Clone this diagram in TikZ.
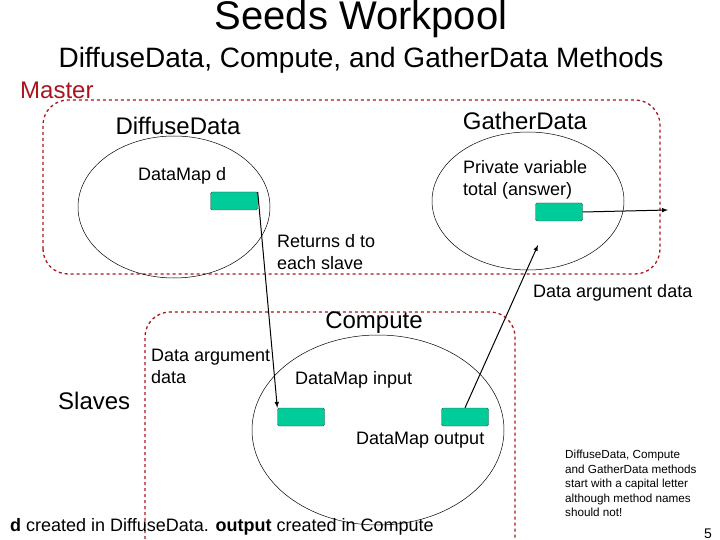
\documentclass[tikz,border=0pt]{standalone}
\usepackage{fontspec}
\setmainfont{Liberation Sans}
\begin{document}
\begin{tikzpicture}[x=1pt,y=-1pt,
  grp/.style={draw={rgb,255:red,170;green,20;blue,30},dashed,line width=1.3pt,rounded corners=25pt},
  ell/.style={draw,line width=0.5pt},
  box/.style={draw=black!70,fill={rgb,255:red,0;green,204;blue,153},rounded corners=1.5pt,minimum width=47pt,minimum height=18pt,inner sep=0},
  lbl/.style={font=\fontsize{18}{22}\selectfont,align=left,inner sep=0},
  big/.style={font=\fontsize{24}{26}\selectfont,inner sep=0},
  arr/.style={-latex,line width=1pt}]
\useasboundingbox (0,0) rectangle (720,540);
\node[font=\fontsize{40}{42}\selectfont] (t) at (361,19) {Seeds Workpool};
\node[font=\fontsize{28}{30}\selectfont] (st) at (361,60) {DiffuseData, Compute, and GatherData Methods};
\node[big,anchor=west,text={rgb,255:red,170;green,20;blue,30}] (m) at (20,90) {Master};
\draw[grp] (43,274) -- (43,100) -- (660,100) -- (660,274) -- cycle;
\draw[grp] (145,545) -- (145,312) -- (515,312) -- (515,545);
\draw[ell] (174,207) ellipse [x radius=96,y radius=71];
\draw[ell] (528,201) ellipse [x radius=96,y radius=69];
\draw[ell] (378,430) ellipse [x radius=126,y radius=95];
\node[big] (dd) at (178,126) {DiffuseData};
\node[big] (gd) at (525,121) {GatherData};
\node[big] (cp) at (374,323) {Compute};
\node[anchor=west,lbl] (dmd) at (138,176) {DataMap d};
\node[anchor=west,lbl] (pv) at (463,180) {Private variable\\total (answer)};
\node[anchor=west,lbl] (rd) at (277,252) {Returns d to\\each slave};
\node[anchor=west,lbl] (dad) at (533,293) {Data argument data};
\node[anchor=west,lbl] (da) at (151,366) {Data argument\\data};
\node[anchor=west,lbl] (dmi) at (295,380) {DataMap input};
\node[anchor=west,lbl] (dmo) at (356,440) {DataMap output};
\node[big,anchor=west] (sl) at (58,401) {Slaves};
\node[anchor=west,lbl] (bt) at (10,527) {\textbf{d} created in DiffuseData. \textbf{output} created in Compute};
\node[anchor=north west,font=\fontsize{11.7}{14.5}\selectfont,align=left,inner sep=0] (nt) at (565,450) {DiffuseData, Compute\\and GatherData methods\\start with a capital letter\\although method names\\should not!};
\node[font=\fontsize{14}{15}\selectfont] (pg) at (708,534) {5};
\node[box] (b1) at (234,201) {};
\node[box] (b2) at (559,212) {};
\node[box] (b3) at (301,417) {};
\node[box] (b4) at (465,417) {};
\coordinate (e1) at (668,210);
\coordinate (e2) at (538,245);
\draw[arr] (b1.north east) -- (b3.north west);
\draw[arr] (b4.north) -- (e2);
\draw[arr] (b2.east) -- (e1);
\end{tikzpicture}
\end{document}
